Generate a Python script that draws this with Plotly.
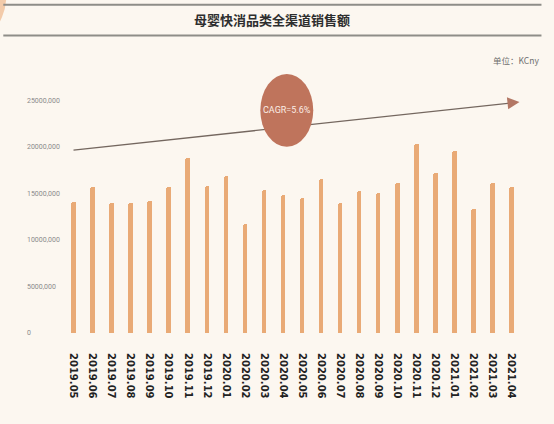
import plotly.graph_objects as go

months = ["2019.05", "2019.06", "2019.07", "2019.08", "2019.09", "2019.10", "2019.11", "2019.12",
          "2020.01", "2020.02", "2020.03", "2020.04", "2020.05", "2020.06", "2020.07", "2020.08",
          "2020.09", "2020.10", "2020.11", "2020.12", "2021.01", "2021.02", "2021.03", "2021.04"]
sales = [14120000, 15660000, 14010000, 14010000, 14200000, 15660000, 18840000, 15840000,
         16870000, 11760000, 15340000, 14840000, 14570000, 16520000, 14010000, 15270000,
         15090000, 16160000, 20380000, 17160000, 19550000, 13370000, 16160000, 15730000]
y_tick_vals = [0, 5000000, 10000000, 15000000, 20000000, 25000000]
y_tick_text = ["0", "5000,000", "10000,000", "15000,000", "20000,000", "25000,000"]
trend_start = 19660000
trend_end = 24840000
cagr_label = "CAGR=5.6%"
title_text = "母婴快消品类全渠道销售额"
unit_text = "单位：KCny"

BG = "#FCF7F0"
BAR = "#E9AA76"

# plot area geometry (px)
L, T, W, H = 63.8, 67.5, 457.7, 266.0
B = T + H


def px_x(x):
    return (x - L) / W


def px_y(y):
    return (B - y) / H


fig = go.Figure()
fig.add_trace(go.Bar(
    x=months, y=sales, width=0.24,
    marker=dict(color=BAR, line=dict(width=0), cornerradius=2),
    hoverinfo="x+y",
))

n = len(months)
tip_x = n - 1 + 0.42
shapes = [
    # corner decoration
    dict(type="circle", xref="paper", yref="paper",
         x0=px_x(-106), x1=px_x(6), y0=px_y(51), y1=px_y(-61),
         fillcolor="#F3CBAA", line=dict(width=0), layer="below"),
    # header rules
    dict(type="line", xref="paper", yref="paper", x0=px_x(3), x1=px_x(542),
         y0=px_y(4), y1=px_y(4), line=dict(color="#8E8D88", width=2)),
    dict(type="line", xref="paper", yref="paper", x0=px_x(3), x1=px_x(542),
         y0=px_y(35), y1=px_y(35), line=dict(color="#8E8D88", width=2)),
    # trend line
    dict(type="line", xref="x", yref="y", x0=0, x1=tip_x - 0.3,
         y0=trend_start, y1=trend_end - (trend_end - trend_start) * 0.3 / tip_x,
         line=dict(color="#74675F", width=1.3), layer="above"),
    # CAGR ellipse
    dict(type="circle", xref="x", yref="y", x0=11.2 - 1.39, x1=11.2 + 1.39,
         y0=23950000 - 3910000, y1=23950000 + 3910000,
         fillcolor="#BF745C", line=dict(width=0), layer="above"),
]

annotations = [
    dict(x=tip_x, y=trend_end, xref="x", yref="y", ax=-13, ay=1.4, text="",
         showarrow=True, arrowhead=2, arrowsize=1.5, arrowwidth=1.6, arrowcolor="#B37764"),
    dict(x=11.2, y=23950000, xref="x", yref="y", text=cagr_label, showarrow=False,
         font=dict(family="Roboto", size=9, color="#FBEDE6")),
    dict(x=px_x(542), y=px_y(59), xref="paper", yref="paper", xanchor="right", yanchor="middle",
         text=unit_text, showarrow=False,
         font=dict(family="Noto Sans CJK SC", size=8.5, color="#6E6E6E")),
]
for v, t in zip(y_tick_vals, y_tick_text):
    annotations.append(dict(x=px_x(25), y=v, xref="paper", yref="y", xanchor="left",
                            yanchor="middle", text=t, showarrow=False,
                            font=dict(family="Liberation Sans Narrow, Roboto", size=7, color="#8A8A8A")))

fig.update_layout(
    width=554, height=424,
    margin=dict(l=L, r=554 - L - W, t=T, b=424 - B, pad=0),
    paper_bgcolor=BG, plot_bgcolor=BG,
    showlegend=False,
    bargap=0,
    title=dict(text="<b>" + title_text + "</b>", x=272 / 554, y=1 - 20 / 424,
               xanchor="center", yanchor="middle",
               font=dict(family="Noto Sans CJK SC", size=13, color="#2E2E2E")),
    xaxis=dict(type="category", range=[-0.5, n - 0.5], tickangle=90, ticks="",
               showgrid=False, zeroline=False, showline=False, ticklabelstandoff=19,
               tickfont=dict(family="DejaVu Sans", size=10, color="#222222", weight="bold")),
    yaxis=dict(range=[0, 28500000], showticklabels=False, showgrid=False, zeroline=False,
               showline=False, ticks=""),
    shapes=shapes,
    annotations=annotations,
)

fig.write_html("out.html")
